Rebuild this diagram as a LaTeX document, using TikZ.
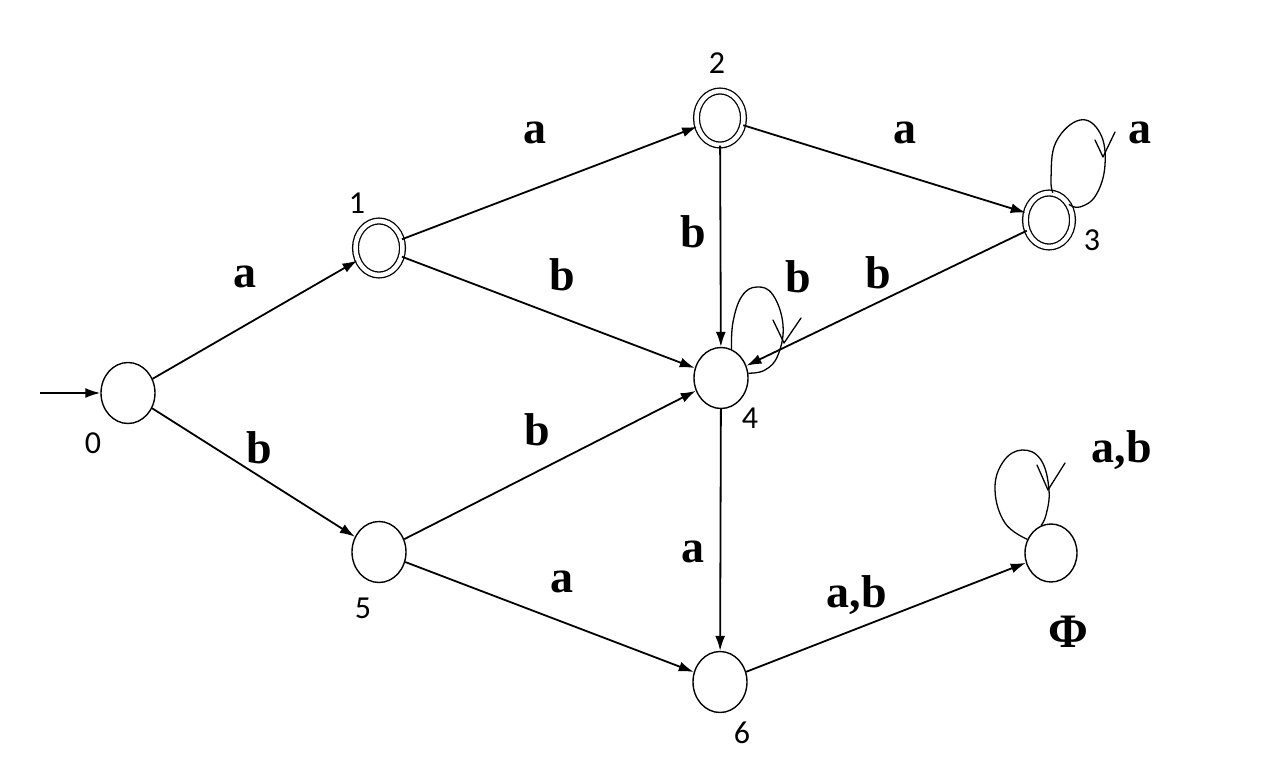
\documentclass[tikz,border=0pt]{standalone}
\usepackage{fontspec}
\setmainfont{Liberation Serif}
\newfontfamily\numfont{Carlito}
\usetikzlibrary{shapes.geometric,arrows.meta}
\begin{document}
\begin{tikzpicture}[x=1pt,y=-1pt,
  st/.style={ellipse,draw,line width=1.4pt,minimum width=54pt,minimum height=61pt,inner sep=0pt},
  acc/.style={ellipse,draw,line width=1.3pt,double,double distance=4.5pt,minimum width=47pt,minimum height=54pt,inner sep=0pt},
  tr/.style={line width=1.8pt,-{Latex[length=15pt,width=10pt]}},
  lp/.style={line width=1.3pt},
  vm/.style={line width=1.3pt,line cap=round},
  lbl/.style={font=\bfseries\fontsize{46}{46}\selectfont,inner sep=0pt},
  num/.style={font=\numfont\fontsize{32}{32}\selectfont,inner sep=0pt}
]
\useasboundingbox (0,0) rectangle (1264,776);
\fill[white] (0,0) rectangle (1264,776);
% states
\node[st]  (n0) at (128,393) {};
\node[acc] (n1) at (379,248) {};
\node[acc] (n2) at (720,118) {};
\node[acc] (n3) at (1049,220) {};
\node[st]  (n4) at (721,378) {};
\node[st]  (n5) at (379,552) {};
\node[st]  (n6) at (720,682) {};
\node[st, minimum width=52pt, minimum height=58pt] (nf) at (1051,553) {};
% state names
\node[num] (l0) at (93,443) {0};
\node[num] (l1) at (357,203) {1};
\node[num] (l2) at (717,63) {2};
\node[num] (l3) at (1092,240) {3};
\node[num] (l4) at (750,418) {4};
\node[num] (l5) at (363,608) {5};
\node[num] (l6) at (742,733) {6};
\node[lbl, font=\bfseries\fontsize{48}{48}\selectfont] (lf) at (1068,632) {Φ};
% initial
\coordinate (init) at (40,393);
\draw[tr] (init) -- (n0);
% transitions
\draw[tr] (n0) -- (n1);
\draw[tr] (n0) -- (n5);
\draw[tr] (n1) -- (n2);
\draw[tr] (n1) -- (n4);
\draw[tr] (n2) -- (n3);
\draw[tr] (n2) -- (n4);
\draw[tr] (n3) -- (n4);
\draw[tr] (n5) -- (n4);
\draw[tr] (n5) -- (n6);
\draw[tr] (n4) -- (n6);
\draw[tr] (n6) -- (nf);
% loops
\draw[lp] plot[smooth,tension=0.7] coordinates {(n3.82) (1051,178) (1056,142) (1080,120) (1100,133) (1105,165) (1096,195) (1080,207) (n3.38)};
\draw[lp] plot[smooth,tension=0.7] coordinates {(n4.70) (733,322) (742,296) (757,287) (773,295) (783,325) (778,355) (765,370) (n4.10)};
\draw[lp] plot[smooth,tension=0.7] coordinates {(nf.150) (1005,523) (995,490) (1003,462) (1022,450) (1041,460) (1049,490) (1046,515) (nf.110)};
% open V marks on the loops
\coordinate (v3) at (1103,157);
\draw[vm] (v3) -- ++(-8,-17) (v3) -- ++(12,-25);
\coordinate (v4) at (784,343);
\draw[vm] (v4) -- ++(-11,-23) (v4) -- ++(17,-25);
\coordinate (vf) at (1048,490);
\draw[vm] (vf) -- ++(-11,-25) (vf) -- ++(17,-27);
% edge labels
\node[lbl] (e01) at (245,277) {a};
\node[lbl] (e05) at (259,448) {b};
\node[lbl] (e12) at (535,133) {a};
\node[lbl] (e14) at (562,275) {b};
\node[lbl] (e23) at (905,133) {a};
\node[lbl] (e24) at (693,232) {b};
\node[lbl] (e34) at (878,273) {b};
\node[lbl] (e44) at (798,277) {b};
\node[lbl] (e33) at (1140,133) {a};
\node[lbl] (e54) at (537,430) {b};
\node[lbl] (e56) at (562,582) {a};
\node[lbl] (e46) at (693,552) {a};
\node[lbl] (e6f) at (857,595) {a,b};
\node[lbl] (eff) at (1122,450) {a,b};
\end{tikzpicture}
\end{document}
